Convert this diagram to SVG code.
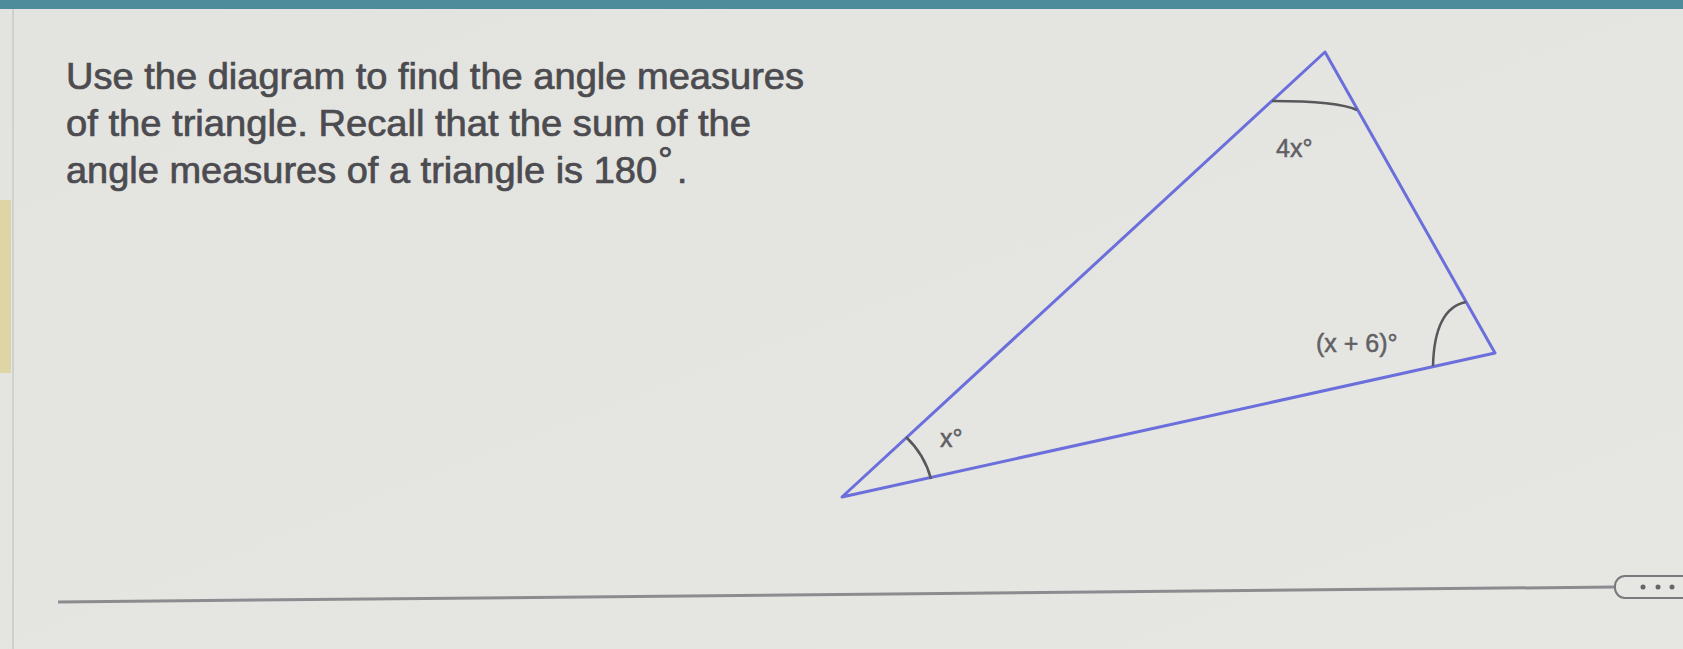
<svg xmlns="http://www.w3.org/2000/svg" width="1683" height="649" viewBox="0 0 1683 649">
  <defs>
    <style>
      .q { font-family: "Liberation Sans", Arial, sans-serif; font-size: 37px; fill: #4b4b50; stroke: #4b4b50; stroke-width: 0.7; }
      .lbl { font-family: "Liberation Sans", Arial, sans-serif; font-size: 25px; fill: #606064; stroke: #606064; stroke-width: 0.5; }
      .side { stroke: #6b6fdc; stroke-width: 3; fill: none; stroke-linecap: round; stroke-linejoin: round; }
      .arc { stroke: #58585c; stroke-width: 2.5; fill: none; }
    </style>
    <linearGradient id="bg" x1="0" y1="0" x2="1" y2="1">
      <stop offset="0" stop-color="#e3e3df"/>
      <stop offset="1" stop-color="#e6e6e2"/>
    </linearGradient>
  </defs>

  <rect x="0" y="0" width="1683" height="649" fill="url(#bg)"/>
  <rect x="0" y="0" width="1683" height="9" fill="#4e8b9b"/>
  <rect x="0" y="200" width="11" height="173" fill="#ddd5a6"/>
  <line x1="13" y1="9" x2="13" y2="649" stroke="#d0d0cc" stroke-width="2"/>

  <g id="question-text">
    <text class="q" x="66" y="89" textLength="738" lengthAdjust="spacingAndGlyphs">Use the diagram to find the angle measures</text>
    <text class="q" x="66" y="136" textLength="685" lengthAdjust="spacingAndGlyphs">of the triangle. Recall that the sum of the</text>
    <text class="q" x="66" y="183" textLength="591" lengthAdjust="spacingAndGlyphs">angle measures of a triangle is 180</text>
    <text class="q" x="658" y="173">°</text>
    <text class="q" x="677" y="183">.</text>
  </g>

  <g id="triangle">
    <polygon class="side" points="842,497 1325,52 1495,353"/>
  </g>

  <g id="angle-marks">
    <path class="arc" d="M1272 101 C1300 101 1340 102 1357 110"/>
    <path class="arc" d="M1466 302 C1446 306 1434 325 1433 366"/>
    <path class="arc" d="M906 437 A89 89 0 0 1 931 479"/>
  </g>

  <g id="labels">
    <text class="lbl" x="1276" y="157">4x°</text>
    <text class="lbl" x="1316" y="352" font-size="26">(x + 6)°</text>
    <text class="lbl" x="940" y="447">x°</text>
  </g>

  <g id="footer">
    <line x1="58" y1="602" x2="1615" y2="587" stroke="#8c8c90" stroke-width="3"/>
    <rect x="1615" y="576" width="80" height="22" rx="10" ry="10" fill="#e6e6e2" stroke="#7a7a7e" stroke-width="2"/>
    <circle cx="1643" cy="587" r="2.5" fill="#66666a"/>
    <circle cx="1658" cy="587" r="2.5" fill="#66666a"/>
    <circle cx="1672" cy="587" r="2.5" fill="#66666a"/>
  </g>
</svg>
